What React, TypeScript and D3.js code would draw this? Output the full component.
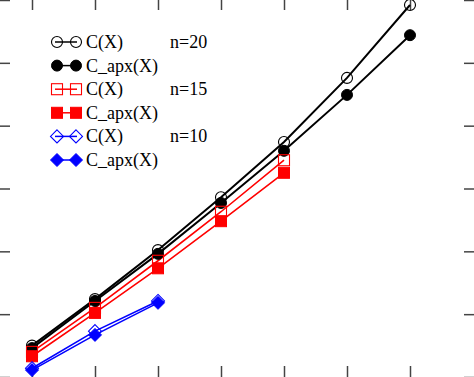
import React, { useEffect, useRef } from "react";
import * as d3 from "d3";

const W = 474;
const H = 377;

const xValues = [1, 2, 3, 4, 5, 6, 7];
const xTicks = [1, 2, 3, 4, 5, 6, 7];
const yTicks = [0, 1, 2, 3, 4, 5, 6];

const n20_C = [0.5, 1.24, 2.02, 2.86, 3.74, 4.76, 5.92];
const n20_Capx = [0.46, 1.21, 1.96, 2.77, 3.6, 4.49, 5.44];
const n15_C = [0.4, 1.1, 1.85, 2.63, 3.45];
const n15_Capx = [0.33, 1.02, 1.73, 2.48, 3.25];
const n10_C = [0.14, 0.73, 1.21];
const n10_Capx = [0.11, 0.67, 1.18];

const legendLabels = ["C(X)", "C_apx(X)", "C(X)", "C_apx(X)", "C(X)", "C_apx(X)"];
const groupLabels = ["n=20", "", "n=15", "", "n=10", ""];

type Series = { values: number[]; color: string; shape: "circle" | "square" | "diamond"; filled: boolean; width: number };

const series: Series[] = [
  { values: n20_C, color: "#000000", shape: "circle", filled: false, width: 2 },
  { values: n20_Capx, color: "#000000", shape: "circle", filled: true, width: 2 },
  { values: n15_C, color: "#ff0000", shape: "square", filled: false, width: 1.6 },
  { values: n15_Capx, color: "#ff0000", shape: "square", filled: true, width: 1.6 },
  { values: n10_C, color: "#0000ff", shape: "diamond", filled: false, width: 1.6 },
  { values: n10_Capx, color: "#0000ff", shape: "diamond", filled: true, width: 1.6 },
];

function drawMarker(g: any, s: Series, cx: number, cy: number) {
  const fill = s.filled ? s.color : "none";
  const sw = s.filled ? 1 : 1.1;
  if (s.shape === "circle") {
    g.append("circle").attr("cx", cx).attr("cy", cy).attr("r", 5.5)
      .attr("fill", fill).attr("stroke", s.color).attr("stroke-width", sw);
  } else if (s.shape === "square") {
    g.append("rect").attr("x", cx - 5.5).attr("y", cy - 5.5).attr("width", 11).attr("height", 11)
      .attr("fill", fill).attr("stroke", s.color).attr("stroke-width", sw);
  } else {
    const r = 6.5;
    g.append("path").attr("d", `M${cx},${cy - r}L${cx + r},${cy}L${cx},${cy + r}L${cx - r},${cy}Z`)
      .attr("fill", fill).attr("stroke", s.color).attr("stroke-width", sw);
  }
}

export default function App() {
  const ref = useRef<SVGSVGElement>(null);
  useEffect(() => {
    const svg = d3.select(ref.current);
    svg.selectAll("*").remove();
    const x = d3.scaleLinear().domain([1, 8]).range([32, 473]);
    const y = d3.scaleLinear().domain([0, 6]).range([H, 0]);

    const tickColor = "#444";
    const axes = [
      { axis: d3.axisBottom(x).tickValues(xTicks).tickSize(10), tr: `translate(0,0)` },
      { axis: d3.axisTop(x).tickValues(xTicks).tickSize(11), tr: `translate(0,${H})` },
      { axis: d3.axisRight(y).tickValues(yTicks).tickSize(10), tr: `translate(0,0)` },
      { axis: d3.axisLeft(y).tickValues(yTicks).tickSize(10), tr: `translate(${W},0)` },
    ];
    axes.forEach(({ axis, tr }) => {
      const g = svg.append("g").attr("transform", tr).call(axis.tickFormat(() => "") as any);
      g.select(".domain").remove();
      g.selectAll(".tick line").attr("stroke", tickColor).attr("stroke-width", 1.5);
    });

    const line = d3.line<number>().x((_, i) => x(xValues[i])).y((d) => y(d));
    const plot = svg.append("g");
    series.forEach((s) => {
      plot.append("path").attr("d", line(s.values)).attr("fill", "none")
        .attr("stroke", s.color).attr("stroke-width", s.width);
    });
    series.forEach((s) => {
      const g = plot.append("g");
      s.values.forEach((v, i) => drawMarker(g, s, x(xValues[i]), y(v)));
    });

    const leg = svg.append("g");
    const rowY = (i: number) => 42 + i * 23.6;
    series.forEach((s, i) => {
      const cy = rowY(i);
      leg.append("line").attr("x1", 55).attr("x2", 77).attr("y1", cy).attr("y2", cy)
        .attr("stroke", s.color).attr("stroke-width", 1.5);
      const g = leg.append("g");
      drawMarker(g, { ...s }, 57, cy);
      drawMarker(g, { ...s }, 76, cy);
      leg.append("text").attr("x", 86).attr("y", cy + 6).attr("font-family", "Liberation Serif")
        .attr("font-size", 18).attr("fill", "#000").text(legendLabels[i]);
      if (groupLabels[i]) {
        leg.append("text").attr("x", 170).attr("y", cy + 6).attr("font-family", "Liberation Serif")
          .attr("font-size", 18).attr("fill", "#000").text(groupLabels[i]);
      }
    });
  }, []);
  return (
    <svg ref={ref} width={W} height={H}
      style={{ position: "absolute", left: 0, top: 0, background: "#fff", display: "block" }} />
  );
}
